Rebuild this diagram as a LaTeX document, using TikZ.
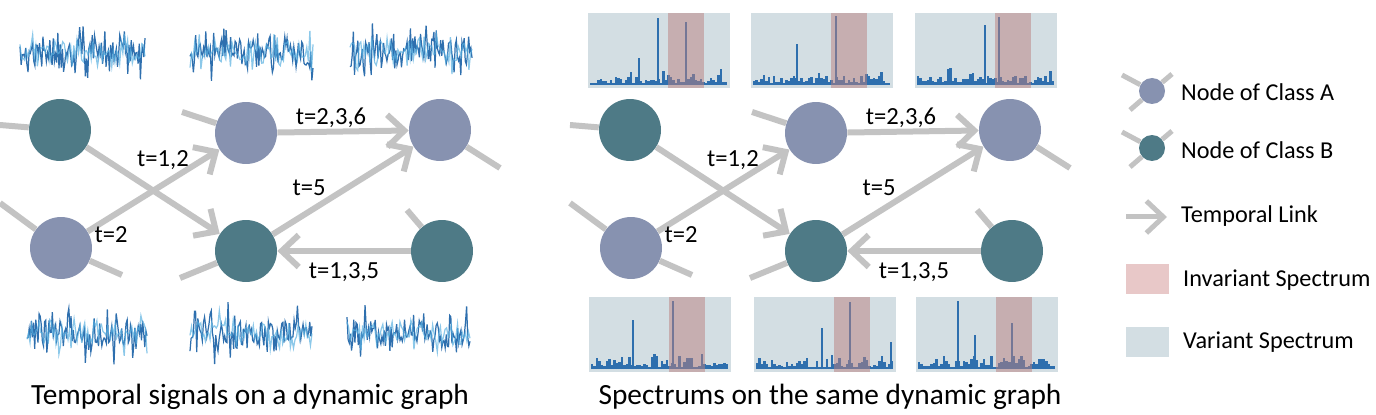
\documentclass[tikz,border=0pt]{standalone}
\usepackage{fontspec}
\setmainfont{Carlito}
\usetikzlibrary{arrows.meta}
\definecolor{classA}{HTML}{8792B0}
\definecolor{classB}{HTML}{4E7A86}
\definecolor{linkgray}{HTML}{C3C3C3}
\definecolor{varspec}{HTML}{D3DEE3}
\definecolor{invspec}{HTML}{E8C8C8}
\definecolor{invband}{HTML}{BB807F}
\definecolor{sigblue}{HTML}{2E6FAE}
\definecolor{sigcyan}{HTML}{5AB0E0}
% noisy signal: x from, x to, middle y
\newcommand\signal[3]{%
  \draw[sig,draw=sigblue] plot[domain=#1:#2,samples=110] (\x,{#3+12*rand+24*rand*abs(rand)});
  \draw[sig,draw=sigcyan,opacity=.7] plot[domain=#1:#2,samples=80] (\x,{#3+10*rand+16*rand*abs(rand)});
}
% spectrum panel: left x, top y, peaks
\newcommand\spectrum[3]{%
  \fill[varspec] (#1,#2) rectangle ++(142,75);
  \begin{scope}[shift={(#1,#2+72)}]
    \foreach \i in {3,5.5,...,139}{
      \pgfmathsetmacro\hh{2+15*rnd*rnd}
      \draw[specbar] (\i,0) -- (\i,-\hh);
    }
    \foreach \px/\py in {#3} \draw[specbar] (\px,0) -- (\px,-\py);
  \end{scope}
  \fill[invband,opacity=.5] (#1+80,#2) rectangle ++(36,75);
}
\begin{document}
\begin{tikzpicture}[x=0.02cm,y=-0.02cm,
    main/.style={circle,minimum size=1.24cm,inner sep=0pt},
    nodeA/.style={main,fill=classA},
    nodeB/.style={main,fill=classB},
    link/.style={draw=linkgray,line width=0.12cm},
    arr/.style={link,-{Straight Barb[length=0.34cm,width=0.64cm]}},
    lab/.style={font=\fontsize{14}{16}\selectfont},
    leg/.style={font=\fontsize{13.8}{16}\selectfont,anchor=west},
    sig/.style={line width=0.7pt},
    specbar/.style={draw=sigblue,line width=1.5pt}]
\useasboundingbox (0,0) rectangle (1376,415);
\pgfmathsetseed{7}

% signals
\signal{20}{145}{52}
\signal{190}{313}{52}
\signal{350}{472}{52}
\signal{27}{147}{333}
\signal{190}{312}{333}
\signal{347}{470}{333}

% spectrums
\spectrum{588}{13}{70/67,98/63,51/27}
\spectrum{751}{13}{85/69,46/41}
\spectrum{915}{13}{70/60,84/68}
\spectrum{589}{297}{84/68,44/49}
\spectrum{754}{297}{96/67,68/41,137/27}
\spectrum{916}{297}{42/68,96/46,59/34}

% the two graphs
\foreach \g/\dx in {l/0,r/570}{
  \begin{scope}[shift={(\dx,0)}]
    \node[nodeB](b1\g) at (60,130){};
    \node[nodeA](a1\g) at (246,133){};
    \node[nodeA](a2\g) at (440,130){};
    \node[nodeA](a3\g) at (61,248){};
    \node[nodeB](b2\g) at (246,251){};
    \node[nodeB](b3\g) at (442,251){};
    \coordinate (sb1\g) at (0,125);
    \coordinate (sa3\g) at (0,203);
    \coordinate (ta3\g) at (122,275);
    \coordinate (sa1\g) at (182,112);
    \coordinate (sb2\g) at (180,278);
    \coordinate (ta2\g) at (500,168);
    \coordinate (sb3\g) at (407,210);
    \draw[link](sb1\g) -- (b1\g);
    \draw[link](sa3\g) -- (a3\g);
    \draw[link](a3\g) -- (ta3\g);
    \draw[link](sa1\g) -- (a1\g);
    \draw[link](sb2\g) -- (b2\g);
    \draw[link](a2\g) -- (ta2\g);
    \draw[link](sb3\g) -- (b3\g);
    \draw[arr](b1\g) -- (b2\g);
    \draw[arr](a3\g) -- (a1\g);
    \draw[arr](a1\g) -- (a2\g);
    \draw[arr](b2\g) -- (a2\g);
    \draw[arr](b3\g) -- (b2\g);
    \node[lab](t12\g) at (163,160){t=1,2};
    \node[lab](t2\g) at (111,235){t=2};
    \node[lab](t236\g) at (331,118){t=2,3,6};
    \node[lab](t5\g) at (309,188){t=5};
    \node[lab](t135\g) at (344,272){t=1,3,5};
  \end{scope}
}

% captions
\node[font=\fontsize{16.7}{19}\selectfont](capl) at (250,397){Temporal signals on a dynamic graph};
\node[font=\fontsize{16.7}{19}\selectfont](capr) at (830,397){Spectrums on the same dynamic graph};

% legend
\node[nodeA,minimum size=0.52cm](legA) at (1152,91){};
\node[nodeB,minimum size=0.52cm](legB) at (1152,148){};
\foreach \n/\dy in {A/0,B/57}{
  \coordinate (\n ul) at (1122,75+\dy);
  \coordinate (\n ur) at (1172,74+\dy);
  \coordinate (\n ll) at (1130,110+\dy);
  \draw[link,line width=0.1cm](\n ul) -- (leg\n);
  \draw[link,line width=0.1cm](\n ur) -- (leg\n);
  \draw[link,line width=0.1cm](\n ll) -- (leg\n);
}
\coordinate (legL1) at (1126,217);
\coordinate (legL2) at (1167,217);
\draw[arr,line width=0.1cm](legL1) -- (legL2);
\fill[invspec] (1126,264) rectangle (1169,294);
\fill[varspec] (1126,327) rectangle (1169,357);
\node[leg](tA) at (1175,92){Node of Class A};
\node[leg](tB) at (1175,150){Node of Class B};
\node[leg](tL) at (1175,216){Temporal Link};
\node[leg](tI) at (1177,280){Invariant Spectrum};
\node[leg](tV) at (1177,342){Variant Spectrum};
\end{tikzpicture}
\end{document}
